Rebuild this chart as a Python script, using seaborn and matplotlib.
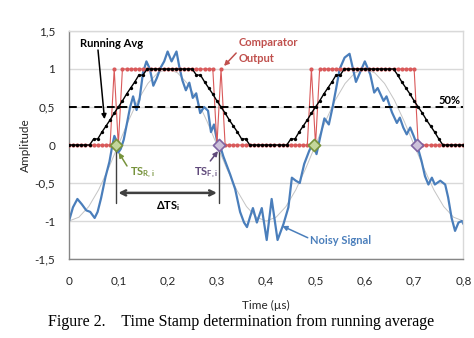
import numpy as np
import matplotlib
matplotlib.use("Agg")
import matplotlib.pyplot as plt
import seaborn as sns

# ---------------------------------------------------------------- data
# Comparator output and its running average, sampled at 120 MS/s
sample_period_us = 1 / 120
comparator = ([0] * 11 + [1, 0] + [1] * 23 + [0, 1] + [0] * 21 + [1, 0]
              + [1] * 24 + [0] * 12)
running_avg = ([0] * 6 + [0.08, 0.08]
               + [0.17, 0.25, 0.33, 0.42, 0.5, 0.58, 0.67, 0.75, 0.83, 0.92]
               + [0.92] + [1] * 12 + [0.92, 0.92]
               + [0.83, 0.75, 0.67, 0.58, 0.5, 0.42, 0.33, 0.25, 0.17]
               + [0.08, 0.08] + [0] * 10 + [0.08, 0.08]
               + [0.17, 0.25, 0.33, 0.42, 0.5, 0.58, 0.67, 0.75, 0.83]
               + [0.92, 0.92] + [1] * 13
               + [0.92, 0.83, 0.75, 0.67, 0.58, 0.5, 0.42, 0.33, 0.25, 0.17, 0.08]
               + [0] * 6)
sample_time = np.arange(len(comparator)) * sample_period_us

# Noise-free reference signal
clean_time = [0.00, 0.02, 0.04, 0.06, 0.08, 0.10, 0.12, 0.14, 0.16, 0.18,
              0.20, 0.22, 0.24, 0.26, 0.28, 0.30, 0.32, 0.34, 0.36, 0.38,
              0.40, 0.42, 0.44, 0.46, 0.48, 0.50, 0.52, 0.54, 0.56, 0.58,
              0.60, 0.62, 0.64, 0.66, 0.68, 0.70, 0.72, 0.74, 0.76, 0.78, 0.80]
clean_signal = [-1.00, -0.95, -0.81, -0.59, -0.31, 0.00, 0.31, 0.59, 0.81, 0.95,
                1.00, 0.95, 0.81, 0.59, 0.31, 0.00, -0.31, -0.59, -0.81, -0.95,
                -1.00, -0.95, -0.81, -0.59, -0.31, 0.00, 0.31, 0.59, 0.81, 0.95,
                1.00, 0.95, 0.81, 0.59, 0.31, 0.00, -0.31, -0.59, -0.81, -0.95, -1.00]

# Noisy input signal
noisy_time = [0.000, 0.008, 0.017, 0.026, 0.035, 0.043, 0.052, 0.058, 0.065, 0.074,
              0.082, 0.088, 0.092, 0.096, 0.100, 0.105, 0.111, 0.118, 0.124, 0.130,
              0.137, 0.143, 0.150, 0.157, 0.164, 0.171, 0.178, 0.186, 0.193, 0.200,
              0.208, 0.218, 0.224, 0.230, 0.237, 0.244, 0.251, 0.258, 0.266, 0.274,
              0.282, 0.288, 0.294, 0.300, 0.306, 0.313, 0.320, 0.327, 0.337, 0.347,
              0.355, 0.361, 0.367, 0.373, 0.381, 0.391, 0.401, 0.411, 0.423, 0.435,
              0.445, 0.452, 0.460, 0.468, 0.477, 0.487, 0.495, 0.502, 0.510, 0.518,
              0.527, 0.535, 0.542, 0.549, 0.559, 0.569, 0.582, 0.600, 0.611, 0.619,
              0.626, 0.638, 0.644, 0.655, 0.665, 0.671, 0.678, 0.685, 0.692, 0.699,
              0.706, 0.715, 0.722, 0.729, 0.736, 0.742, 0.753, 0.763, 0.769, 0.776,
              0.783, 0.790, 0.797, 0.800]
noisy_signal = [-1.00, -0.82, -0.71, -0.78, -0.86, -0.88, -0.96, -0.88, -0.70, -0.42,
                -0.22, 0.00, 0.12, 0.06, -0.10, -0.05, 0.07, 0.30, 0.50, 0.64,
                0.46, 0.60, 0.95, 1.10, 1.00, 0.78, 0.88, 1.02, 1.10, 1.23,
                1.10, 1.23, 1.02, 0.85, 0.72, 0.82, 0.62, 0.68, 0.42, 0.50,
                0.45, 0.17, 0.27, 0.06, 0.00, -0.15, -0.27, -0.39, -0.58, -0.88,
                -1.02, -1.08, -0.95, -0.83, -1.02, -0.83, -1.25, -0.71, -1.25, -1.04,
                -0.82, -0.43, -0.47, -0.50, -0.25, -0.08, 0.03, -0.12, 0.12, 0.35,
                0.27, 0.51, 0.75, 1.00, 1.15, 1.20, 0.83, 1.10, 0.93, 0.69,
                0.75, 0.58, 0.64, 0.43, 0.29, 0.36, 0.23, 0.14, 0.23, 0.12,
                0.00, -0.21, -0.41, -0.52, -0.43, -0.52, -0.47, -0.52, -0.69, -0.96,
                -1.13, -1.02, -1.00, -1.04]

threshold = 0.5
ts_rise = [0.095, 0.497]
ts_fall = [0.305, 0.7065]

x_ticks = [0, 0.1, 0.2, 0.3, 0.4, 0.5, 0.6, 0.7, 0.8]
x_tick_labels = ["0", "0,1", "0,2", "0,3", "0,4", "0,5", "0,6", "0,7", "0,8"]
y_ticks = [-1.5, -1, -0.5, 0, 0.5, 1, 1.5]
y_tick_labels = ["-1,5", "-1", "-0,5", "0", "0,5", "1", "1,5"]

# ---------------------------------------------------------------- style
sns.set_theme(style="white")
plt.rcParams["font.family"] = ["Lato", "DejaVu Sans"]
plt.rcParams["mathtext.fontset"] = "custom"
plt.rcParams["mathtext.rm"] = "Lato:bold"
plt.rcParams["mathtext.it"] = "Lato:bold"
plt.rcParams["mathtext.bf"] = "Lato:bold"

BLUE = "#4a7ebb"
RED = "#d9595a"
GREEN = "#77933c"
PURPLE = "#604a7b"
GRID = "#d9d9d9"
AXIS = "#868686"

fig = plt.figure(figsize=(4.74, 3.38), dpi=100)
ax = fig.add_axes([0.1456, 0.2337, 0.8321, 0.6746])

for yv in y_ticks:
    ax.axhline(yv, color=GRID, lw=1.0, zorder=0)

sns.lineplot(x=clean_time, y=clean_signal, ax=ax, color="#c4c4c4", lw=0.7, zorder=1)
sns.lineplot(x=noisy_time, y=noisy_signal, ax=ax, color=BLUE, lw=1.6, zorder=2)
sns.lineplot(x=sample_time, y=comparator, ax=ax, color=RED, lw=0.8, marker="o",
             markersize=3.0, markeredgewidth=0, markerfacecolor=RED, zorder=3)
sns.lineplot(x=sample_time, y=running_avg, ax=ax, color="black", lw=1.0, marker="o",
             markersize=2.4, markeredgewidth=0, markerfacecolor="black", zorder=4)
ax.axhline(threshold, color="black", lw=1.4, ls=(0, (4, 2.5)), zorder=5)

# time-stamp markers on the zero line
ax.scatter(ts_rise, [0] * len(ts_rise), marker="D", s=38, facecolor="#c3d69b",
           edgecolor=GREEN, linewidth=1.2, zorder=6)
ax.scatter(ts_fall, [0] * len(ts_fall), marker="D", s=38, facecolor="#ccc1da",
           edgecolor="#7f64a2", linewidth=1.2, zorder=6)

# pulse width bracket
for tx in (ts_rise[0], ts_fall[0]):
    ax.plot([tx, tx], [0, -0.76], color="#404040", lw=1.0, zorder=5)
ax.annotate("", xy=(ts_fall[0] - 0.005, -0.63), xytext=(ts_rise[0] + 0.005, -0.63),
            arrowprops=dict(arrowstyle="<->", color="#404040", lw=1.8,
                            shrinkA=0, shrinkB=0, mutation_scale=9))
ax.text((ts_rise[0] + ts_fall[0]) / 2, -0.80, "ΔTS$_\\mathrm{i}$", ha="center",
        va="center", fontsize=8, fontweight="bold", color="black")

# labels with arrows
arrow = dict(arrowstyle="-|>", lw=1.1, shrinkA=0, shrinkB=0, mutation_scale=7)
ax.text(0.0862, 1.33, "Running Avg", ha="center", va="center", fontsize=8,
        fontweight="bold", color="black")
ax.annotate("", xy=(0.072, 0.34), xytext=(0.0588, 1.25),
            arrowprops=dict(arrow, color="black"))

ax.text(0.345, 1.346, "Comparator", ha="left", va="center", fontsize=8,
        fontweight="bold", color="#c0504d")
ax.text(0.345, 1.14, "Output", ha="left", va="center", fontsize=8,
        fontweight="bold", color="#c0504d")
ax.annotate("", xy=(0.3144, 1.04), xytext=(0.339, 1.21),
            arrowprops=dict(arrow, color="#c0504d"))

ax.text(0.795, 0.59, "50%", ha="right", va="center", fontsize=8,
        fontweight="bold", color="black")

ax.text(0.1237, -0.365, "TS$_\\mathrm{R,i}$", ha="left", va="center", fontsize=8,
        fontweight="bold", color=GREEN)
ax.annotate("", xy=(0.1008, -0.10), xytext=(0.1176, -0.276),
            arrowprops=dict(arrow, color=GREEN))

ax.text(0.253, -0.365, "TS$_\\mathrm{F,i}$", ha="left", va="center", fontsize=8,
        fontweight="bold", color=PURPLE)
ax.annotate("", xy=(0.3022, -0.08), xytext=(0.2866, -0.21),
            arrowprops=dict(arrow, color=PURPLE))

ax.text(0.4888, -1.25, "Noisy Signal", ha="left", va="center", fontsize=8,
        fontweight="bold", color=BLUE)
ax.annotate("", xy=(0.4327, -1.066), xytext=(0.4842, -1.22),
            arrowprops=dict(arrow, color=BLUE))

# axes
ax.set_xlim(0, 0.8)
ax.set_ylim(-1.5, 1.5)
ax.set_xticks(x_ticks)
ax.set_xticklabels(x_tick_labels)
ax.set_yticks(y_ticks)
ax.set_yticklabels(y_tick_labels)
ax.tick_params(axis="both", which="major", direction="out", length=4, width=1,
               color=AXIS, labelsize=8.5, labelcolor="#262626", pad=3)
ax.tick_params(axis="x", pad=8)
ax.tick_params(axis="y", pad=6)
for side in ("left", "bottom"):
    ax.spines[side].set_color(AXIS)
    ax.spines[side].set_linewidth(1.0)
for side in ("top", "right"):
    ax.spines[side].set_color(GRID)
    ax.spines[side].set_linewidth(1.0)

ax.set_xlabel("Time (µs)", fontsize=8.5, color="#262626")
ax.xaxis.set_label_coords(0.5, -0.205)
ax.xaxis.label.set_verticalalignment("center")
ax.set_ylabel("Amplitude", fontsize=8.5, color="#262626")
ax.yaxis.set_label_coords(-0.11, 0.5)
ax.yaxis.label.set_verticalalignment("center")

fig.text(241 / 474, 1 - 322 / 338, "Figure 2.    Time Stamp determination from running average",
         ha="center", va="center", fontsize=11.5, family="Liberation Serif", color="black")

fig.savefig("out.png", dpi=100)
